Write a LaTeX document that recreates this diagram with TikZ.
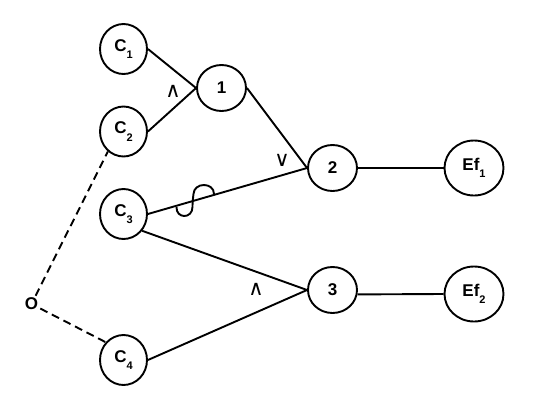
\documentclass[tikz,border=0pt]{standalone}
\usepackage{fontspec}
\setmainfont{Liberation Sans}
\newfontfamily\opfont{DejaVu Sans}
\usetikzlibrary{shapes.geometric}
\newcommand\mysub[1]{\raisebox{-0.45em}{\fontsize{11}{11}\selectfont #1}}
\begin{document}
\begin{tikzpicture}[x=1pt,y=-1pt,
  lbl/.style={font=\fontsize{17}{17}\selectfont\bfseries},
  cnode/.style={lbl, draw, ellipse, line width=1.9pt, minimum width=47pt, minimum height=50pt, inner sep=0pt},
  numnode/.style={cnode, minimum width=49pt, minimum height=46pt},
  efnode/.style={cnode, minimum width=59pt, minimum height=55pt},
  link/.style={line width=1.9pt},
  dlink/.style={line width=1.9pt, dash pattern=on 8pt off 5pt},
  opsym/.style={font=\fontsize{21}{21}\selectfont\opfont, inner sep=0pt}]
\useasboundingbox (0,0) rectangle (542,410);
\node[cnode] (c1) at (123.5,49) {C\mysub{1}};
\node[cnode] (c2) at (123.5,131.5) {C\mysub{2}};
\node[cnode] (c3) at (123.5,214) {C\mysub{3}};
\node[cnode] (c4) at (123.5,360) {C\mysub{4}};
\node[numnode] (n1) at (221.5,88) {1};
\node[numnode] (n2) at (332.5,168) {2};
\node[numnode] (n3) at (332.5,290) {3};
\node[efnode] (e1) at (474,168) {Ef\mysub{1}};
\node[efnode] (e2) at (474,294) {Ef\mysub{2}};
\node[lbl, inner sep=2pt] (o) at (31.5,304) {O};
\node[opsym] (w1) at (173,91) {∧};
\node[opsym] (v2) at (282,160) {∨};
\node[opsym] (w3) at (256,289) {∧};
\draw[link] (c1.east) -- (n1.west);
\draw[link] (c2.east) -- (n1.west);
\draw[link] (n1.east) -- (n2.west);
\draw[link] (c3.east) -- (n2.west);
\draw[link] (c3.-42) -- (n3.west);
\draw[link] (c4.east) -- (n3.west);
\draw[link] (n2) -- (e1);
\draw[link] (n3.-10) -- (e2.west);
\draw[dlink] (o) -- (c2.-128);
\draw[dlink] (o) -- (c4.135);
\draw[line width=1.9pt] (176.5,207) .. controls (176,219) and (192.5,219) .. (192.5,207)
  .. controls (192.5,201) and (193,198) .. (193.5,194)
  .. controls (194,182) and (214,182) .. (214,194);
\end{tikzpicture}
\end{document}
